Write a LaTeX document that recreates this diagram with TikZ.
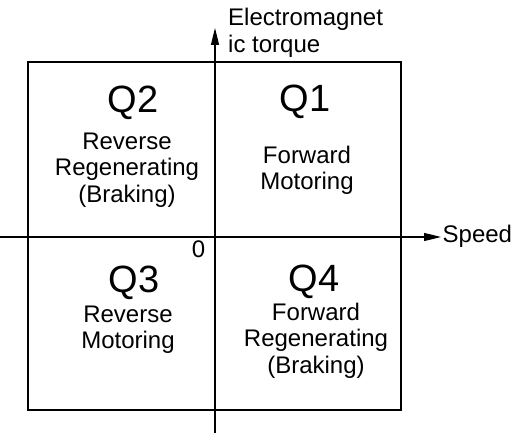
\documentclass[tikz,border=0pt]{standalone}
\usepackage{fontspec}
\setmainfont{Liberation Sans}
\usetikzlibrary{arrows.meta}
\usetikzlibrary{positioning}

\tikzset{
	quadlabel/.style={inner sep=0pt,anchor=base,font=\fontsize{38}{40}\selectfont},
	quadtext/.style={inner sep=0pt,anchor=north,align=center,font=\fontsize{24}{26.5}\selectfont},
	axislabel/.style={inner sep=0pt,font=\fontsize{24}{27}\selectfont},
	axis/.style={line width=1.2pt,-{Triangle[length=17pt,width=8pt]}}
}

\begin{document}
\begin{tikzpicture}[x=1pt,y=-1pt]
		\useasboundingbox (0,0) rectangle (513,446);
		%Frame
			\draw[line width=2pt] (28,62) rectangle (401,410);
		%Axes
			\coordinate (xneg) at (0,237);
			\coordinate (xpos) at (441,237);
			\coordinate (yneg) at (215,433);
			\coordinate (ypos) at (215,28);
			\draw[axis] (xneg) -- (xpos);
			\draw[axis] (yneg) -- (ypos);
		%Axis labels
			\node[axislabel,anchor=base west] (speed) at (442.5,242) {Speed};
			\node[axislabel,anchor=north west,align=left] (torque) at (228,7.8) {Electromagnet\\ic torque};
			\node[axislabel,anchor=base] (origin) at (198.5,257) {0};
		%Quadrants
			\node[quadlabel] (q1) at (305,112) {Q1};
			\node[quadtext] (q1text) at (307,145.7) {Forward\\Motoring};
			\node[quadlabel] (q2) at (133,113) {Q2};
			\node[quadtext] (q2text) at (127,132.7) {Reverse\\Regenerating\\(Braking)};
			\node[quadlabel] (q3) at (134,292) {Q3};
			\node[quadtext] (q3text) at (128,305.7) {Reverse\\Motoring};
			\node[quadlabel] (q4) at (314,291) {Q4};
			\node[quadtext] (q4text) at (316,302.7) {Forward\\Regenerating\\(Braking)};
	\end{tikzpicture}
\end{document}
